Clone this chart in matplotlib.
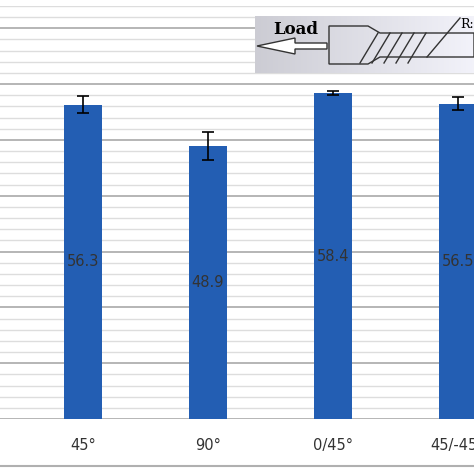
import matplotlib

matplotlib.use("Agg")
import matplotlib.pyplot as plt
import numpy as np
from matplotlib.patches import Polygon

# ---- data ----
categories = ["45°", "90°", "0/45°", "45/-45°"]
values = [56.3, 48.9, 58.4, 56.5]
errors = [1.5, 2.5, 0.4, 1.2]

BAR = "#235EB3"

fig = plt.figure(figsize=(4.74, 4.74), dpi=100)
ax = fig.add_axes([0, 55 / 474, 1, 413 / 474])
x = np.arange(len(categories))
ax.bar(x, values, width=0.31, color=BAR, zorder=3)
ax.errorbar(x, values, yerr=errors, fmt="none", ecolor="black",
            elinewidth=1.2, capsize=4, capthick=1.2, zorder=4)
for xi, v in zip(x, values):
    ax.text(xi, v / 2, f"{v}", ha="center", va="center", fontsize=10.5,
            color="#333333", zorder=5)

ax.set_yticks(np.arange(0, 75, 10))
ax.set_yticks(np.arange(0, 75, 2), minor=True)
ax.grid(axis="y", which="major", color="#b0b0b0", lw=1.3, zorder=0)
ax.grid(axis="y", which="minor", color="#dddddd", lw=1.0, zorder=0)
ax.tick_params(axis="both", which="both", length=0, labelleft=False)
ax.set_xticks(x)
ax.set_xticklabels(categories, fontsize=10.5, color="#333333")
ax.tick_params(axis="x", pad=14)
for s in ax.spines.values():
    s.set_visible(False)
ax.set_xlim(-0.664, 3.128)
ax.set_ylim(0, 74)

# bottom border of chart area
fig.add_artist(plt.Line2D([0, 1], [1 - 466 / 474] * 2, color="#b0b0b0", lw=1.5))

# ---- inset: specimen sketch ----
ins = fig.add_axes([255 / 474, 1 - 73 / 474, 219 / 474, 57 / 474])
grad = np.linspace(0.80, 0.95, 256).reshape(1, -1)
ins.imshow(np.dstack([grad, grad, grad + 0.03]).clip(0, 1), extent=[0, 219, 0, 57],
           aspect="auto")
ins.set_xlim(0, 219)
ins.set_ylim(0, 57)
ins.axis("off")
ins.text(18, 44, "Load", family="DejaVu Serif", fontweight="bold", fontsize=12,
         va="center")
ins.add_patch(Polygon([[72, 30], [40, 30], [40, 35], [2, 27], [40, 19], [40, 24],
                       [72, 24]], closed=True, fc="white", ec="#333333", lw=1))
ins.add_patch(Polygon([[74, 47], [113, 47], [125, 40], [219, 40], [219, 16],
                       [125, 16], [113, 9], [74, 9]], closed=True,
                      fc="none", ec="#333333", lw=1))
for hx in range(105, 165, 12):
    ins.plot([hx, hx + 18], [10, 40], color="#333333", lw=1)
ins.plot([172, 205], [16, 55], color="#333333", lw=1)
ins.text(205, 48, "R:", family="DejaVu Serif", fontsize=9, va="center")

fig.savefig("out.png", dpi=100)
